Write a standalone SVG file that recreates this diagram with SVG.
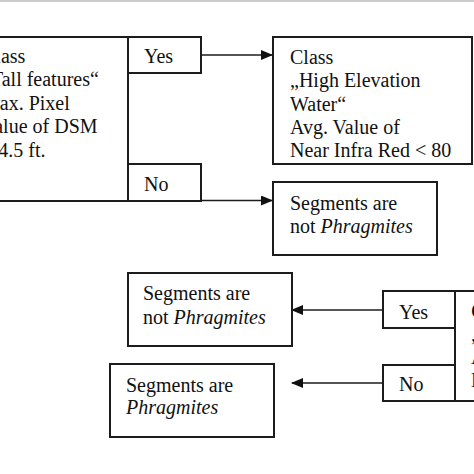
<svg xmlns="http://www.w3.org/2000/svg" width="474" height="474" viewBox="0 0 474 474">
<style>
.box{fill:#fff;stroke:#1c1c1c;stroke-width:2}
.t{font-family:"Liberation Serif","Times New Roman",serif;font-size:20px;fill:#111}
.i{font-style:italic}
.c{stroke:#1c1c1c;stroke-width:1.6;fill:none}
</style>
<defs>
<marker id="ah" markerWidth="12" markerHeight="10" refX="11" refY="5" orient="auto" markerUnits="userSpaceOnUse">
<path d="M0,0 L12,5 L0,10 Z" fill="#111"/>
</marker>
</defs>
<rect x="0" y="0" width="474" height="2" fill="#cccccc"/>
<g id="connectors">
<line class="c" x1="201" y1="55" x2="272" y2="55" marker-end="url(#ah)"/>
<line class="c" x1="201" y1="200.5" x2="272" y2="200.5" marker-end="url(#ah)"/>
<line class="c" x1="383" y1="310" x2="292" y2="310" marker-end="url(#ah)"/>
<line class="c" x1="383" y1="383" x2="292" y2="383" marker-end="url(#ah)"/>
</g>
<g id="tall-features">
<rect class="box" x="-10" y="37" width="138" height="164"/>
<text class="t" x="-18" y="63">Class</text>
<text class="t" x="-18" y="86">„Tall features“</text>
<text class="t" x="-18" y="110">Max. Pixel</text>
<text class="t" x="-18" y="133">Value of DSM</text>
<text class="t" x="-18" y="157">&gt; 4.5 ft.</text>
</g>
<g id="yes-top">
<rect class="box" x="128" y="37" width="73" height="36"/>
<text class="t" x="144" y="63">Yes</text>
</g>
<g id="no-top">
<rect class="box" x="128" y="164" width="73" height="37"/>
<text class="t" x="144" y="191">No</text>
</g>
<g id="high-elevation-water">
<rect class="box" x="273" y="37" width="199" height="127"/>
<text class="t" x="290" y="64">Class</text>
<text class="t" x="290" y="87">„High Elevation</text>
<text class="t" x="290" y="111">Water“</text>
<text class="t" x="290" y="134">Avg. Value of</text>
<text class="t" x="290" y="157">Near Infra Red &lt; 80</text>
</g>
<g id="not-phragmites-top">
<rect class="box" x="273" y="182" width="164" height="73"/>
<text class="t" x="290" y="210">Segments are</text>
<text class="t" x="290" y="233">not <tspan class="i">Phragmites</tspan></text>
</g>
<g id="not-phragmites-bottom">
<rect class="box" x="128" y="273" width="164" height="73"/>
<text class="t" x="143" y="300">Segments are</text>
<text class="t" x="143" y="324">not <tspan class="i">Phragmites</tspan></text>
</g>
<g id="phragmites">
<rect class="box" x="110" y="364" width="164" height="73"/>
<text class="t" x="126" y="392">Segments are</text>
<text class="t i" x="126" y="414">Phragmites</text>
</g>
<g id="yes-bottom">
<rect class="box" x="383" y="291" width="72" height="37"/>
<text class="t" x="399" y="319">Yes</text>
</g>
<g id="no-bottom">
<rect class="box" x="383" y="365" width="72" height="36"/>
<text class="t" x="399" y="391">No</text>
</g>
<g id="class-bottom">
<rect class="box" x="455" y="291" width="40" height="110"/>
<text class="t" x="471" y="318" font-weight="bold">Class</text>
<text class="t" x="471" y="341">„Low</text>
<text class="t" x="471" y="364">Avg.</text>
<text class="t" x="471" y="387">Near</text>
</g>
</svg>
